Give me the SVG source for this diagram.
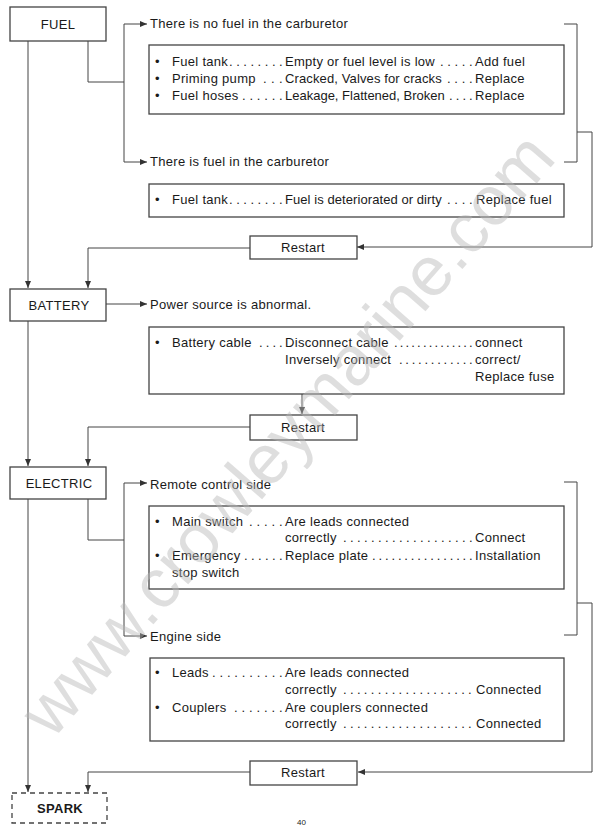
<svg xmlns="http://www.w3.org/2000/svg" width="600" height="826" viewBox="0 0 600 826">
<defs>
<marker id="ah" markerUnits="userSpaceOnUse" markerWidth="8" markerHeight="6" refX="7" refY="3" orient="auto">
<path d="M0,0 L7,3 L0,6 z" fill="#333"/>
</marker>
<style>
.box{fill:#fff;stroke:#444;stroke-width:1.3}
.dash{fill:#fff;stroke:#444;stroke-width:1.3;stroke-dasharray:5 4}
.ln{fill:none;stroke:#444;stroke-width:1}
.ar{fill:none;stroke:#444;stroke-width:1;marker-end:url(#ah)}
text{font-family:"Liberation Sans",Arial,sans-serif;font-size:13px;letter-spacing:0.3px;fill:#1a1a1a}
.c{text-anchor:middle}
.b{font-weight:bold}
.wm{font-size:70px;letter-spacing:0;fill:#b8b8b8;opacity:0.45;text-anchor:middle}
</style>
</defs>
<rect width="600" height="826" fill="#fff"/>

<g id="connectors">
<path class="ar" d="M28,41 V288"/>
<path class="ar" d="M28,321 V466"/>
<path class="ar" d="M28,499 V792"/>
<path class="ln" d="M88,41 V82 H124"/>
<path class="ln" d="M124,24 V162"/>
<path class="ar" d="M124,24 H147"/>
<path class="ar" d="M124,162 H147"/>
<path class="ln" d="M564,24 H577 V162 H564"/>
<path class="ln" d="M577,132 H592 V247"/>
<path class="ar" d="M592,247 H357"/>
<path class="ar" d="M250,248 H88 V288"/>
<path class="ar" d="M106,304 H147"/>
<path class="ar" d="M302,394 V414"/>
<path class="ar" d="M250,427 H88 V466"/>
<path class="ln" d="M88,499 V540 H124"/>
<path class="ln" d="M124,483 V636"/>
<path class="ar" d="M124,483 H147"/>
<path class="ar" d="M124,636 H147"/>
<path class="ln" d="M564,482 H577 V635 H564"/>
<path class="ln" d="M577,603 H592 V772"/>
<path class="ar" d="M592,772 H358"/>
<path class="ar" d="M250,772 H88 V792"/>
</g>

<g id="fuel">
<rect class="box" x="10" y="7" width="96" height="34"/>
<text class="c" x="58" y="29">FUEL</text>
</g>

<g id="no-fuel-label">
<text x="150" y="28">There is no fuel in the carburetor</text>
</g>

<g id="no-fuel-box">
<rect class="box" x="149" y="45" width="415" height="69"/>
<text x="155" y="66">•</text>
<text x="172" y="66">Fuel tank</text>
<text x="229" y="66" textLength="54" lengthAdjust="spacing">........</text>
<text x="285" y="66" textLength="150" lengthAdjust="spacing">Empty or fuel level is low</text>
<text x="440" y="66" textLength="33" lengthAdjust="spacing">.....</text>
<text x="475" y="66">Add fuel</text>
<text x="155" y="83">•</text>
<text x="172" y="83">Priming pump</text>
<text x="263" y="83" textLength="20" lengthAdjust="spacing">...</text>
<text x="285" y="83" textLength="157" lengthAdjust="spacing">Cracked, Valves for cracks</text>
<text x="447" y="83" textLength="26" lengthAdjust="spacing">....</text>
<text x="475" y="83">Replace</text>
<text x="155" y="100">•</text>
<text x="172" y="100">Fuel hoses</text>
<text x="242" y="100" textLength="41" lengthAdjust="spacing">......</text>
<text x="285" y="100" textLength="160" lengthAdjust="spacing">Leakage, Flattened, Broken</text>
<text x="449" y="100" textLength="24" lengthAdjust="spacing">....</text>
<text x="475" y="100">Replace</text>
</g>

<g id="fuel-label">
<text x="150" y="166">There is fuel in the carburetor</text>
</g>

<g id="fuel-box">
<rect class="box" x="149" y="184" width="415" height="33"/>
<text x="155" y="204">•</text>
<text x="172" y="204">Fuel tank</text>
<text x="229" y="204" textLength="54" lengthAdjust="spacing">........</text>
<text x="285" y="204" textLength="157" lengthAdjust="spacing">Fuel is deteriorated or dirty</text>
<text x="447" y="204" textLength="26" lengthAdjust="spacing">....</text>
<text x="476" y="204">Replace  fuel</text>
</g>

<g id="restart1">
<rect class="box" x="250" y="236" width="107" height="23"/>
<text class="c" x="303" y="252">Restart</text>
</g>

<g id="battery">
<rect class="box" x="10" y="289" width="96" height="32"/>
<text class="c" x="59" y="310">BATTERY</text>
</g>

<g id="power-label">
<text x="150" y="309">Power source is abnormal.</text>
</g>

<g id="battery-box">
<rect class="box" x="149" y="327" width="415" height="67"/>
<text x="155" y="347">•</text>
<text x="172" y="347">Battery cable</text>
<text x="259" y="347" textLength="24" lengthAdjust="spacing">....</text>
<text x="285" y="347">Disconnect cable</text>
<text x="394" y="347" textLength="79" lengthAdjust="spacing">..............</text>
<text x="475" y="347">connect</text>
<text x="285" y="364">Inversely connect</text>
<text x="399" y="364" textLength="74" lengthAdjust="spacing">............</text>
<text x="475" y="364">correct/</text>
<text x="475" y="381">Replace fuse</text>
</g>

<g id="restart2">
<rect class="box" x="250" y="415" width="107" height="25"/>
<text class="c" x="303" y="432">Restart</text>
</g>

<g id="electric">
<rect class="box" x="10" y="467" width="96" height="32"/>
<text class="c" x="59" y="488">ELECTRIC</text>
</g>

<g id="remote-label">
<text x="150" y="489">Remote control side</text>
</g>

<g id="remote-box">
<rect class="box" x="149" y="506" width="415" height="83"/>
<text x="155" y="526">•</text>
<text x="172" y="526">Main switch</text>
<text x="249" y="526" textLength="34" lengthAdjust="spacing">.....</text>
<text x="285" y="526">Are leads connected</text>
<text x="285" y="542">correctly</text>
<text x="343" y="542" textLength="130" lengthAdjust="spacing">...................</text>
<text x="475" y="542">Connect</text>
<text x="155" y="560">•</text>
<text x="172" y="560">Emergency</text>
<text x="244" y="560" textLength="39" lengthAdjust="spacing">......</text>
<text x="285" y="560">Replace plate</text>
<text x="372" y="560" textLength="101" lengthAdjust="spacing">................</text>
<text x="475" y="560">Installation</text>
<text x="172" y="577">stop switch</text>
</g>

<g id="engine-label">
<text x="150" y="641">Engine side</text>
</g>

<g id="engine-box">
<rect class="box" x="150" y="658" width="414" height="83"/>
<text x="155" y="677">•</text>
<text x="172" y="677">Leads</text>
<text x="212" y="677" textLength="71" lengthAdjust="spacing">..........</text>
<text x="285" y="677">Are leads connected</text>
<text x="285" y="694">correctly</text>
<text x="343" y="694" textLength="129" lengthAdjust="spacing">...................</text>
<text x="476" y="694">Connected</text>
<text x="155" y="712">•</text>
<text x="172" y="712">Couplers</text>
<text x="234" y="712" textLength="49" lengthAdjust="spacing">.......</text>
<text x="285" y="712">Are couplers connected</text>
<text x="285" y="728">correctly</text>
<text x="343" y="728" textLength="129" lengthAdjust="spacing">...................</text>
<text x="476" y="728">Connected</text>
</g>

<g id="restart3">
<rect class="box" x="250" y="761" width="107" height="24"/>
<text class="c" x="303" y="777">Restart</text>
</g>

<g id="spark">
<rect class="dash" x="12" y="793" width="95" height="30"/>
<text class="c b" x="60" y="813">SPARK</text>
</g>

<text x="297" y="825" style="font-size:8px;letter-spacing:0">40</text>

<text class="wm" x="305" y="450" transform="rotate(-49 305 450)">www.crowleymarine.com</text>
</svg>
